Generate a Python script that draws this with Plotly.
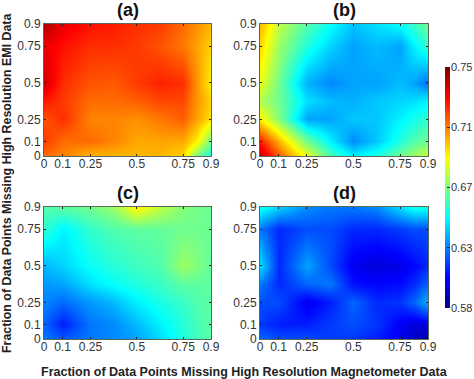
import plotly.graph_objects as go

# Shared grid (fraction of data points missing)
x_fraction = [0, 0.1, 0.25, 0.375, 0.5, 0.625, 0.75, 0.825, 0.9]
y_fraction = [0.9, 0.75, 0.5, 0.375, 0.25, 0.1, 0]
tick_values = [0, 0.1, 0.25, 0.5, 0.75, 0.9]
tick_labels = ["0", "0.1", "0.25", "0.5", "0.75", "0.9"]

panel_a = [
    [.742, .733, .727, .725, .722, .720, .712, .706, .700],
    [.733, .727, .722, .722, .720, .716, .710, .703, .695],
    [.737, .722, .716, .715, .720, .724, .722, .705, .690],
    [.726, .720, .712, .712, .714, .718, .718, .705, .695],
    [.716, .722, .708, .708, .706, .710, .714, .703, .692],
    [.720, .712, .712, .708, .702, .703, .702, .690, .665],
    [.712, .708, .700, .700, .700, .700, .695, .665, .650],
]
panel_b = [
    [.700, .678, .660, .648, .637, .642, .648, .656, .665],
    [.695, .672, .652, .640, .632, .636, .632, .645, .655],
    [.685, .665, .634, .628, .632, .632, .636, .632, .623],
    [.675, .665, .642, .636, .634, .638, .640, .642, .645],
    [.690, .668, .632, .632, .638, .638, .645, .650, .655],
    [.725, .700, .665, .645, .628, .638, .652, .660, .665],
    [.740, .715, .685, .660, .645, .652, .665, .673, .680],
]
panel_c = [
    [.660, .662, .665, .672, .690, .678, .668, .666, .664],
    [.655, .645, .655, .660, .662, .663, .665, .665, .664],
    [.635, .640, .648, .653, .657, .660, .672, .668, .662],
    [.630, .632, .642, .648, .652, .656, .662, .662, .662],
    [.627, .623, .630, .636, .645, .651, .656, .660, .662],
    [.622, .610, .625, .628, .636, .645, .653, .658, .662],
    [.625, .620, .625, .628, .632, .641, .652, .658, .662],
]
panel_d = [
    [.650, .640, .628, .625, .625, .628, .642, .650, .650],
    [.625, .612, .618, .618, .612, .612, .615, .618, .618],
    [.642, .612, .632, .618, .603, .600, .602, .606, .612],
    [.625, .612, .622, .625, .608, .606, .607, .612, .622],
    [.618, .618, .603, .610, .622, .612, .614, .622, .635],
    [.615, .610, .610, .615, .618, .614, .604, .600, .603],
    [.622, .618, .618, .615, .615, .610, .603, .596, .590],
]
panel_titles = ["(a)", "(b)", "(c)", "(d)"]
panels = [panel_a, panel_b, panel_c, panel_d]
color_ticks = [0.75, 0.70875, 0.6675, 0.62625, 0.585]
color_labels = ["0.75", "0.71", "0.67", "0.63", "0.58"]
color_levels = [0.585, 0.606, 0.6266, 0.647, 0.6675, 0.688, 0.7087, 0.729, 0.75]
x_title = "Fraction of Data Points Missing High Resolution Magnetometer Data"
y_title = "Fraction of Data Points Missing High Resolution EMI Data"

W, H = 474, 379
boxes = [(44, 211, 24, 156), (260, 428, 24, 156), (44, 211, 207, 339), (260, 428, 207, 339)]
jet = [[0, "#00007f"], [0.125, "#0000ff"], [0.375, "#00ffff"],
       [0.5, "#7fff7f"], [0.625, "#ffff00"], [0.875, "#ff0000"], [1, "#7f0000"]]

fig = go.Figure()
layout = {}
annots = []
for i, (z, title, box) in enumerate(zip(panels, panel_titles, boxes)):
    n = "" if i == 0 else str(i + 1)
    fig.add_trace(go.Heatmap(
        x=x_fraction, y=y_fraction, z=z, xaxis="x" + n, yaxis="y" + n,
        zmin=0.585, zmax=0.75, colorscale=jet, zsmooth="best",
        showscale=False, hoverinfo="skip",
    ))
    axis = dict(
        automargin=False,
        tickmode="array", tickvals=tick_values, ticktext=tick_labels,
        ticks="inside", ticklen=2, tickcolor="#222", showline=True, linecolor="#5a6a5a",
        linewidth=1, mirror="ticks", showgrid=False, zeroline=False, tickangle=0,
        tickfont=dict(family="Liberation Sans", size=12, color="#333"),
    )
    layout["xaxis" + n] = {**axis, "range": [0, 0.9], "domain": [box[0] / W, box[1] / W],
                           "anchor": "y" + n, "ticklabelstandoff": -3}
    layout["yaxis" + n] = {**axis, "range": [0, 0.9], "domain": [1 - box[3] / H, 1 - box[2] / H],
                           "anchor": "x" + n}
    annots.append(dict(text="<b>" + title + "</b>", x=0.5, y=1 + 14 / (box[3] - box[2]),
                       xref="x" + n + " domain", yref="y" + n + " domain", showarrow=False,
                       xanchor="center", yanchor="middle", borderpad=0, borderwidth=0,
                       font=dict(family="Liberation Sans", size=18, color="#111")))

# Colour scale strip, drawn as its own small axis
fig.add_trace(go.Heatmap(
    x=[0, 1], y=color_levels, z=[[v, v] for v in color_levels], xaxis="x5", yaxis="y5",
    zmin=0.585, zmax=0.75, colorscale=jet, zsmooth="best", showscale=False, hoverinfo="skip",
))
layout["xaxis5"] = dict(domain=[445 / W, 450 / W], range=[0, 1], visible=False, anchor="y5",
                        automargin=False)
layout["yaxis5"] = dict(domain=[1 - 308 / H, 1 - 67 / H], range=[0.585, 0.75], anchor="x5",
                        automargin=False,
                        side="right", tickmode="array", tickvals=color_ticks, ticktext=color_labels,
                        ticks="inside", ticklen=3, tickcolor="#222", showline=False, showgrid=False,
                        zeroline=False, ticklabelstandoff=0,
                        tickfont=dict(family="Liberation Sans", size=11, color="#333"))

annots.append(dict(text="<b>" + x_title + "</b>", x=244 / W, y=1 - 372 / H,
                   xref="paper", yref="paper", showarrow=False, xanchor="center", yanchor="middle",
                   font=dict(family="Liberation Sans", size=12.5, color="#222")))
annots.append(dict(text="<b>" + y_title + "</b>", x=7 / W, y=1 - 184 / H,
                   xref="paper", yref="paper", showarrow=False, textangle=-90,
                   xanchor="center", yanchor="middle",
                   font=dict(family="Liberation Sans", size=12.4, color="#222")))

fig.update_layout(width=W, height=H, margin=dict(l=0, r=0, t=0, b=0), autosize=False,
                  paper_bgcolor="white", plot_bgcolor="white", annotations=annots, **layout)
fig.write_html("out.html", post_script="document.body.style.margin='0';",
               config={"displayModeBar": False})
